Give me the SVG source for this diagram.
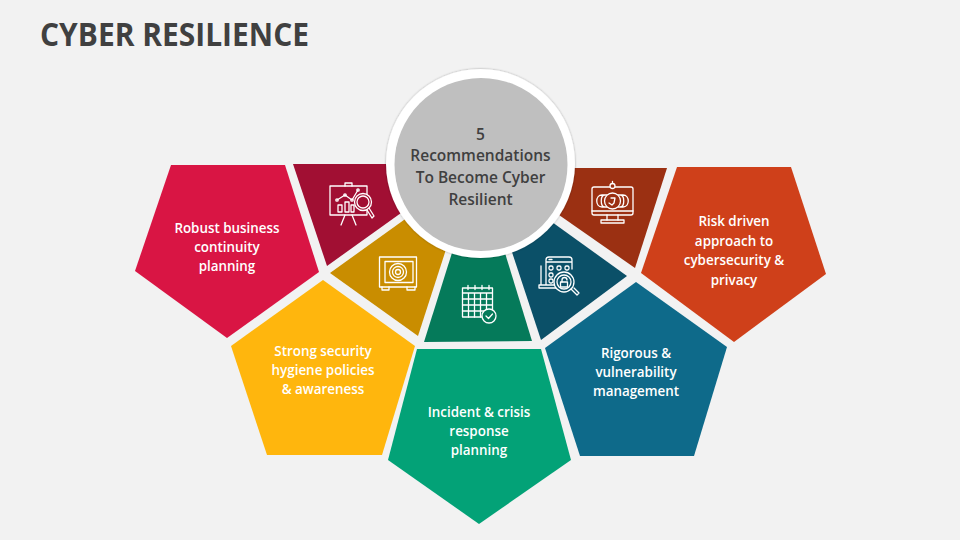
<svg xmlns="http://www.w3.org/2000/svg" width="960" height="540" viewBox="0 0 960 540">
<style>
text{font-family:"Open Sans","Noto Sans","Liberation Sans",sans-serif;font-weight:600;text-anchor:middle}
.l{font-size:13.400px;fill:#fff}
.c{font-size:15.500px;fill:#404040}
.i{fill:none;stroke:#fff;stroke-width:1.300;stroke-linejoin:round;stroke-linecap:round}
</style>
<defs><filter id="s" x="-10%" y="-10%" width="120%" height="120%"><feDropShadow dx="0" dy="0" stdDeviation="1.200" flood-color="#000" flood-opacity=".35"/></filter></defs>
<rect width="960" height="540" fill="#f2f2f2"/>
<text x="40" y="46" textLength="269" lengthAdjust="spacingAndGlyphs" style="text-anchor:start;font-size:32px;font-weight:700;fill:#404040">CYBER RESILIENCE</text>
<g id="connectors"/>
<g id="seg1"><polygon points="293,164 420,164 401,213 327,266" fill="#a10f33"/>
<g class="i"><rect x="330" y="186" width="37" height="29"/><path d="M345 186v-3h7v3M345 215l-4 10M352 215l4 10M337 200l8-5 7 5 6-10M338 212v-7h4v7zM345 212v-10h4v10zM351 212v-7h3v7z"/><circle cx="337" cy="200" r="1.200"/><circle cx="345" cy="195" r="1.200"/><circle cx="352" cy="200" r="1.200"/><circle cx="358" cy="190" r="1.200"/><circle cx="363" cy="202" r="8.500" fill="#a10f33"/><circle cx="363" cy="202" r="6"/><path d="M369 208l5 8-2 2-5-8"/></g></g>
<g id="seg2"><polygon points="330,273 415,212 450,237 418,336" fill="#c98d00"/>
<g class="i"><rect x="379.500" y="257" width="37" height="30"/><rect x="385" y="261.500" width="28" height="21"/><circle cx="398" cy="272" r="8.500"/><circle cx="398" cy="272" r="5.500"/><circle cx="398" cy="272" r="2.500"/><path d="M382 287v3h7v-3M407 287v3h8v-3"/></g></g>
<g id="seg3"><polygon points="456,240 501,240 532,341 424,342" fill="#057a5a"/>
<g class="i"><rect x="462.500" y="288" width="30" height="29"/><path d="M462.500 293h30M468.500 293v24M474.500 293v24M480.500 293v24M486.500 293v24M462.500 299h30M462.500 305h30M462.500 311h30M468 285.500v4M475 285.500v4M482 285.500v4M489 285.500v4"/><circle cx="489" cy="316" r="7" fill="#057a5a"/><path d="M486 316l2.500 2.500 4-4.500"/></g></g>
<g id="seg4"><polygon points="508,240 545,217 627,276 541,340" fill="#0b5068"/>
<g class="i"><path d="M546 285v-25a3 3 0 0 1 3-3h20a3 3 0 0 1 3 3v9M546 262h26M541 266v19M539 285h17v3h-17z"/><path d="M549 259.500h3"/><rect x="549" y="266" width="4" height="4" rx="1.500"/><rect x="557" y="266" width="4" height="4" rx="1.500"/><rect x="565" y="266" width="4" height="4" rx="1.500"/><rect x="549" y="273" width="4" height="4" rx="1.500"/><rect x="549" y="279" width="4" height="4" rx="1.500"/><circle cx="564" cy="282" r="10" fill="#0b5068"/><circle cx="564" cy="282" r="7"/><rect x="560.500" y="282" width="7" height="5"/><path d="M562 282v-2a2.500 2.500 0 0 1 5 0"/><path d="M571 289l3 3 3 3 2-2-5-5"/></g></g>
<g id="seg5"><polygon points="545,168 667,168 635,268 559,215" fill="#9b3012"/>
<g class="i"><rect x="592" y="187" width="41" height="28" rx="2"/><path d="M592 211h41M607 215v5M618 215v5"/><rect x="601" y="220" width="23" height="3"/><circle cx="612.500" cy="186" r="2.500" fill="#9b3012"/><path d="M612.500 183.500v-2M602 195h21M602 207h21M602 195c-7 0-7 12 0 12M605 195c-5 0-5 12 0 12M623 195c7 0 7 12 0 12M620 195c5 0 5 12 0 12"/><circle cx="612.500" cy="201" r="8" fill="#9b3012"/><path d="M611 198h4l-1 5-2 2M609 203l3 2"/></g></g>
<g id="node-red"><polygon points="171,165 285,165 319,272 227,338 135,271" fill="#d91544"/>
<text class="l" x="227" y="233">Robust business</text><text class="l" x="227" y="252">continuity</text><text class="l" x="227" y="271">planning</text></g>
<g id="node-yellow"><polygon points="323,280 415,346 382,455 267,455 231,346" fill="#ffb60d"/>
<text class="l" x="323" y="356">Strong security</text><text class="l" x="323" y="375">hygiene policies</text><text class="l" x="323" y="394">&amp; awareness</text></g>
<g id="node-green"><polygon points="417,349 541,349 571,460 479,524 388,460" fill="#03a277"/>
<text class="l" x="479" y="417">Incident &amp; crisis</text><text class="l" x="479" y="436">response</text><text class="l" x="479" y="455">planning</text></g>
<g id="node-blue"><polygon points="636,282 727,347 694,456 580,456 545,348" fill="#0e6a8a"/>
<text class="l" x="636" y="358">Rigorous &amp;</text><text class="l" x="636" y="377">vulnerability</text><text class="l" x="636" y="396">management</text></g>
<g id="node-orange"><polygon points="677,167 791,167 826,274 734,342 641,273" fill="#cf401a"/>
<text class="l" x="734" y="226">Risk driven</text><text class="l" x="734" y="246">approach to</text><text class="l" x="734" y="265">cybersecurity &amp;</text><text class="l" x="734" y="285">privacy</text></g>
<g id="center"><circle cx="480.500" cy="163.500" r="94.500" fill="#fff" filter="url(#s)"/><circle cx="481" cy="164.500" r="86.500" fill="#bfbfbf"/>
<text class="c" x="480.500" y="140">5</text><text class="c" x="480.500" y="161">Recommendations</text><text class="c" x="480.500" y="183">To Become Cyber</text><text class="c" x="480.500" y="205">Resilient</text></g>
</svg>
